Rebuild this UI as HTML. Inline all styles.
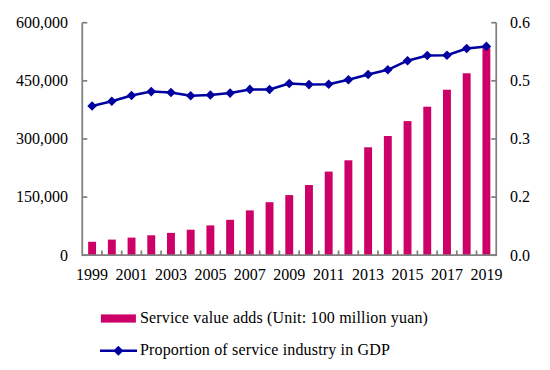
<!DOCTYPE html>
<html><head><meta charset="utf-8"><style>
html,body{margin:0;padding:0;background:#fff;}
body{width:550px;height:370px;overflow:hidden;}
svg{display:block;}
text{font-family:"Liberation Serif",serif;font-size:16px;fill:#000;}
</style></head><body>
<svg width="550" height="370" viewBox="0 0 550 370">
<rect x="88.16" y="241.80" width="7.90" height="13.40" fill="#CC0066"/>
<rect x="107.87" y="239.60" width="7.90" height="15.60" fill="#CC0066"/>
<rect x="127.59" y="237.60" width="7.90" height="17.60" fill="#CC0066"/>
<rect x="147.30" y="235.30" width="7.90" height="19.90" fill="#CC0066"/>
<rect x="167.01" y="232.90" width="7.90" height="22.30" fill="#CC0066"/>
<rect x="186.73" y="229.70" width="7.90" height="25.50" fill="#CC0066"/>
<rect x="206.44" y="225.40" width="7.90" height="29.80" fill="#CC0066"/>
<rect x="226.16" y="219.80" width="7.90" height="35.40" fill="#CC0066"/>
<rect x="245.87" y="210.40" width="7.90" height="44.80" fill="#CC0066"/>
<rect x="265.59" y="202.20" width="7.90" height="53.00" fill="#CC0066"/>
<rect x="285.30" y="195.10" width="7.90" height="60.10" fill="#CC0066"/>
<rect x="305.01" y="185.00" width="7.90" height="70.20" fill="#CC0066"/>
<rect x="324.73" y="171.60" width="7.90" height="83.60" fill="#CC0066"/>
<rect x="344.44" y="160.30" width="7.90" height="94.90" fill="#CC0066"/>
<rect x="364.16" y="147.30" width="7.90" height="107.90" fill="#CC0066"/>
<rect x="383.87" y="136.00" width="7.90" height="119.20" fill="#CC0066"/>
<rect x="403.59" y="121.10" width="7.90" height="134.10" fill="#CC0066"/>
<rect x="423.30" y="106.70" width="7.90" height="148.50" fill="#CC0066"/>
<rect x="443.01" y="89.70" width="7.90" height="165.50" fill="#CC0066"/>
<rect x="462.73" y="73.30" width="7.90" height="181.90" fill="#CC0066"/>
<rect x="482.44" y="48.20" width="7.90" height="207.00" fill="#CC0066"/>
<path d="M82.25,22.7 V255.2 H496.25 V22.7" fill="none" stroke="#808080" stroke-width="1.75"/>
<line x1="82.25" y1="255.20" x2="87.25" y2="255.20" stroke="#808080" stroke-width="1.75"/>
<line x1="496.25" y1="255.20" x2="491.25" y2="255.20" stroke="#808080" stroke-width="1.75"/>
<line x1="82.25" y1="197.07" x2="87.25" y2="197.07" stroke="#808080" stroke-width="1.75"/>
<line x1="496.25" y1="197.07" x2="491.25" y2="197.07" stroke="#808080" stroke-width="1.75"/>
<line x1="82.25" y1="138.95" x2="87.25" y2="138.95" stroke="#808080" stroke-width="1.75"/>
<line x1="496.25" y1="138.95" x2="491.25" y2="138.95" stroke="#808080" stroke-width="1.75"/>
<line x1="82.25" y1="80.82" x2="87.25" y2="80.82" stroke="#808080" stroke-width="1.75"/>
<line x1="496.25" y1="80.82" x2="491.25" y2="80.82" stroke="#808080" stroke-width="1.75"/>
<line x1="82.25" y1="22.70" x2="87.25" y2="22.70" stroke="#808080" stroke-width="1.75"/>
<line x1="496.25" y1="22.70" x2="491.25" y2="22.70" stroke="#808080" stroke-width="1.75"/>
<line x1="101.96" y1="255.2" x2="101.96" y2="250.5" stroke="#808080" stroke-width="1.75"/>
<line x1="121.68" y1="255.2" x2="121.68" y2="250.5" stroke="#808080" stroke-width="1.75"/>
<line x1="141.39" y1="255.2" x2="141.39" y2="250.5" stroke="#808080" stroke-width="1.75"/>
<line x1="161.11" y1="255.2" x2="161.11" y2="250.5" stroke="#808080" stroke-width="1.75"/>
<line x1="180.82" y1="255.2" x2="180.82" y2="250.5" stroke="#808080" stroke-width="1.75"/>
<line x1="200.54" y1="255.2" x2="200.54" y2="250.5" stroke="#808080" stroke-width="1.75"/>
<line x1="220.25" y1="255.2" x2="220.25" y2="250.5" stroke="#808080" stroke-width="1.75"/>
<line x1="239.96" y1="255.2" x2="239.96" y2="250.5" stroke="#808080" stroke-width="1.75"/>
<line x1="259.68" y1="255.2" x2="259.68" y2="250.5" stroke="#808080" stroke-width="1.75"/>
<line x1="279.39" y1="255.2" x2="279.39" y2="250.5" stroke="#808080" stroke-width="1.75"/>
<line x1="299.11" y1="255.2" x2="299.11" y2="250.5" stroke="#808080" stroke-width="1.75"/>
<line x1="318.82" y1="255.2" x2="318.82" y2="250.5" stroke="#808080" stroke-width="1.75"/>
<line x1="338.54" y1="255.2" x2="338.54" y2="250.5" stroke="#808080" stroke-width="1.75"/>
<line x1="358.25" y1="255.2" x2="358.25" y2="250.5" stroke="#808080" stroke-width="1.75"/>
<line x1="377.96" y1="255.2" x2="377.96" y2="250.5" stroke="#808080" stroke-width="1.75"/>
<line x1="397.68" y1="255.2" x2="397.68" y2="250.5" stroke="#808080" stroke-width="1.75"/>
<line x1="417.39" y1="255.2" x2="417.39" y2="250.5" stroke="#808080" stroke-width="1.75"/>
<line x1="437.11" y1="255.2" x2="437.11" y2="250.5" stroke="#808080" stroke-width="1.75"/>
<line x1="456.82" y1="255.2" x2="456.82" y2="250.5" stroke="#808080" stroke-width="1.75"/>
<line x1="476.54" y1="255.2" x2="476.54" y2="250.5" stroke="#808080" stroke-width="1.75"/>
<polyline points="92.11,106.00 111.82,101.30 131.54,95.50 151.25,91.60 170.96,92.50 190.68,95.70 210.39,95.00 230.11,93.10 249.82,89.40 269.54,89.50 289.25,83.50 308.96,84.60 328.68,84.30 348.39,79.80 368.11,74.50 387.82,69.80 407.54,60.70 427.25,55.50 446.96,55.20 466.68,48.50 486.39,46.40" fill="none" stroke="#0000A0" stroke-width="2.5" stroke-linejoin="round"/>
<path d="M92.11,101.20 L96.91,106.00 L92.11,110.80 L87.31,106.00Z" fill="#0000A0"/>
<path d="M111.82,96.50 L116.62,101.30 L111.82,106.10 L107.02,101.30Z" fill="#0000A0"/>
<path d="M131.54,90.70 L136.34,95.50 L131.54,100.30 L126.74,95.50Z" fill="#0000A0"/>
<path d="M151.25,86.80 L156.05,91.60 L151.25,96.40 L146.45,91.60Z" fill="#0000A0"/>
<path d="M170.96,87.70 L175.76,92.50 L170.96,97.30 L166.16,92.50Z" fill="#0000A0"/>
<path d="M190.68,90.90 L195.48,95.70 L190.68,100.50 L185.88,95.70Z" fill="#0000A0"/>
<path d="M210.39,90.20 L215.19,95.00 L210.39,99.80 L205.59,95.00Z" fill="#0000A0"/>
<path d="M230.11,88.30 L234.91,93.10 L230.11,97.90 L225.31,93.10Z" fill="#0000A0"/>
<path d="M249.82,84.60 L254.62,89.40 L249.82,94.20 L245.02,89.40Z" fill="#0000A0"/>
<path d="M269.54,84.70 L274.34,89.50 L269.54,94.30 L264.74,89.50Z" fill="#0000A0"/>
<path d="M289.25,78.70 L294.05,83.50 L289.25,88.30 L284.45,83.50Z" fill="#0000A0"/>
<path d="M308.96,79.80 L313.76,84.60 L308.96,89.40 L304.16,84.60Z" fill="#0000A0"/>
<path d="M328.68,79.50 L333.48,84.30 L328.68,89.10 L323.88,84.30Z" fill="#0000A0"/>
<path d="M348.39,75.00 L353.19,79.80 L348.39,84.60 L343.59,79.80Z" fill="#0000A0"/>
<path d="M368.11,69.70 L372.91,74.50 L368.11,79.30 L363.31,74.50Z" fill="#0000A0"/>
<path d="M387.82,65.00 L392.62,69.80 L387.82,74.60 L383.02,69.80Z" fill="#0000A0"/>
<path d="M407.54,55.90 L412.34,60.70 L407.54,65.50 L402.74,60.70Z" fill="#0000A0"/>
<path d="M427.25,50.70 L432.05,55.50 L427.25,60.30 L422.45,55.50Z" fill="#0000A0"/>
<path d="M446.96,50.40 L451.76,55.20 L446.96,60.00 L442.16,55.20Z" fill="#0000A0"/>
<path d="M466.68,43.70 L471.48,48.50 L466.68,53.30 L461.88,48.50Z" fill="#0000A0"/>
<path d="M486.39,41.60 L491.19,46.40 L486.39,51.20 L481.59,46.40Z" fill="#0000A0"/>
<text x="68" y="260.50" text-anchor="end">0</text>
<text x="68" y="202.38" text-anchor="end">150,000</text>
<text x="68" y="144.25" text-anchor="end">300,000</text>
<text x="68" y="86.12" text-anchor="end">450,000</text>
<text x="68" y="28.00" text-anchor="end">600,000</text>
<text x="510" y="260.50">0.0</text>
<text x="510" y="202.38">0.2</text>
<text x="510" y="144.25">0.3</text>
<text x="510" y="86.12">0.5</text>
<text x="510" y="28.00">0.6</text>
<text x="92.11" y="280" text-anchor="middle">1999</text>
<text x="131.54" y="280" text-anchor="middle">2001</text>
<text x="170.96" y="280" text-anchor="middle">2003</text>
<text x="210.39" y="280" text-anchor="middle">2005</text>
<text x="249.82" y="280" text-anchor="middle">2007</text>
<text x="289.25" y="280" text-anchor="middle">2009</text>
<text x="328.68" y="280" text-anchor="middle">2011</text>
<text x="368.11" y="280" text-anchor="middle">2013</text>
<text x="407.54" y="280" text-anchor="middle">2015</text>
<text x="446.96" y="280" text-anchor="middle">2017</text>
<text x="486.39" y="280" text-anchor="middle">2019</text>
<rect x="100.9" y="314.4" width="35" height="8.2" fill="#CC0066"/>
<text x="139.9" y="323.4" textLength="288" lengthAdjust="spacing">Service value adds (Unit: 100 million yuan)</text>
<line x1="100" y1="350.7" x2="137" y2="350.7" stroke="#0000A0" stroke-width="2.5"/>
<path d="M118.4,345.7 L123.4,350.7 L118.4,355.7 L113.4,350.7Z" fill="#0000A0"/>
<text x="139.9" y="355.4" textLength="250" lengthAdjust="spacing">Proportion of service industry in GDP</text>
</svg>
</body></html>
